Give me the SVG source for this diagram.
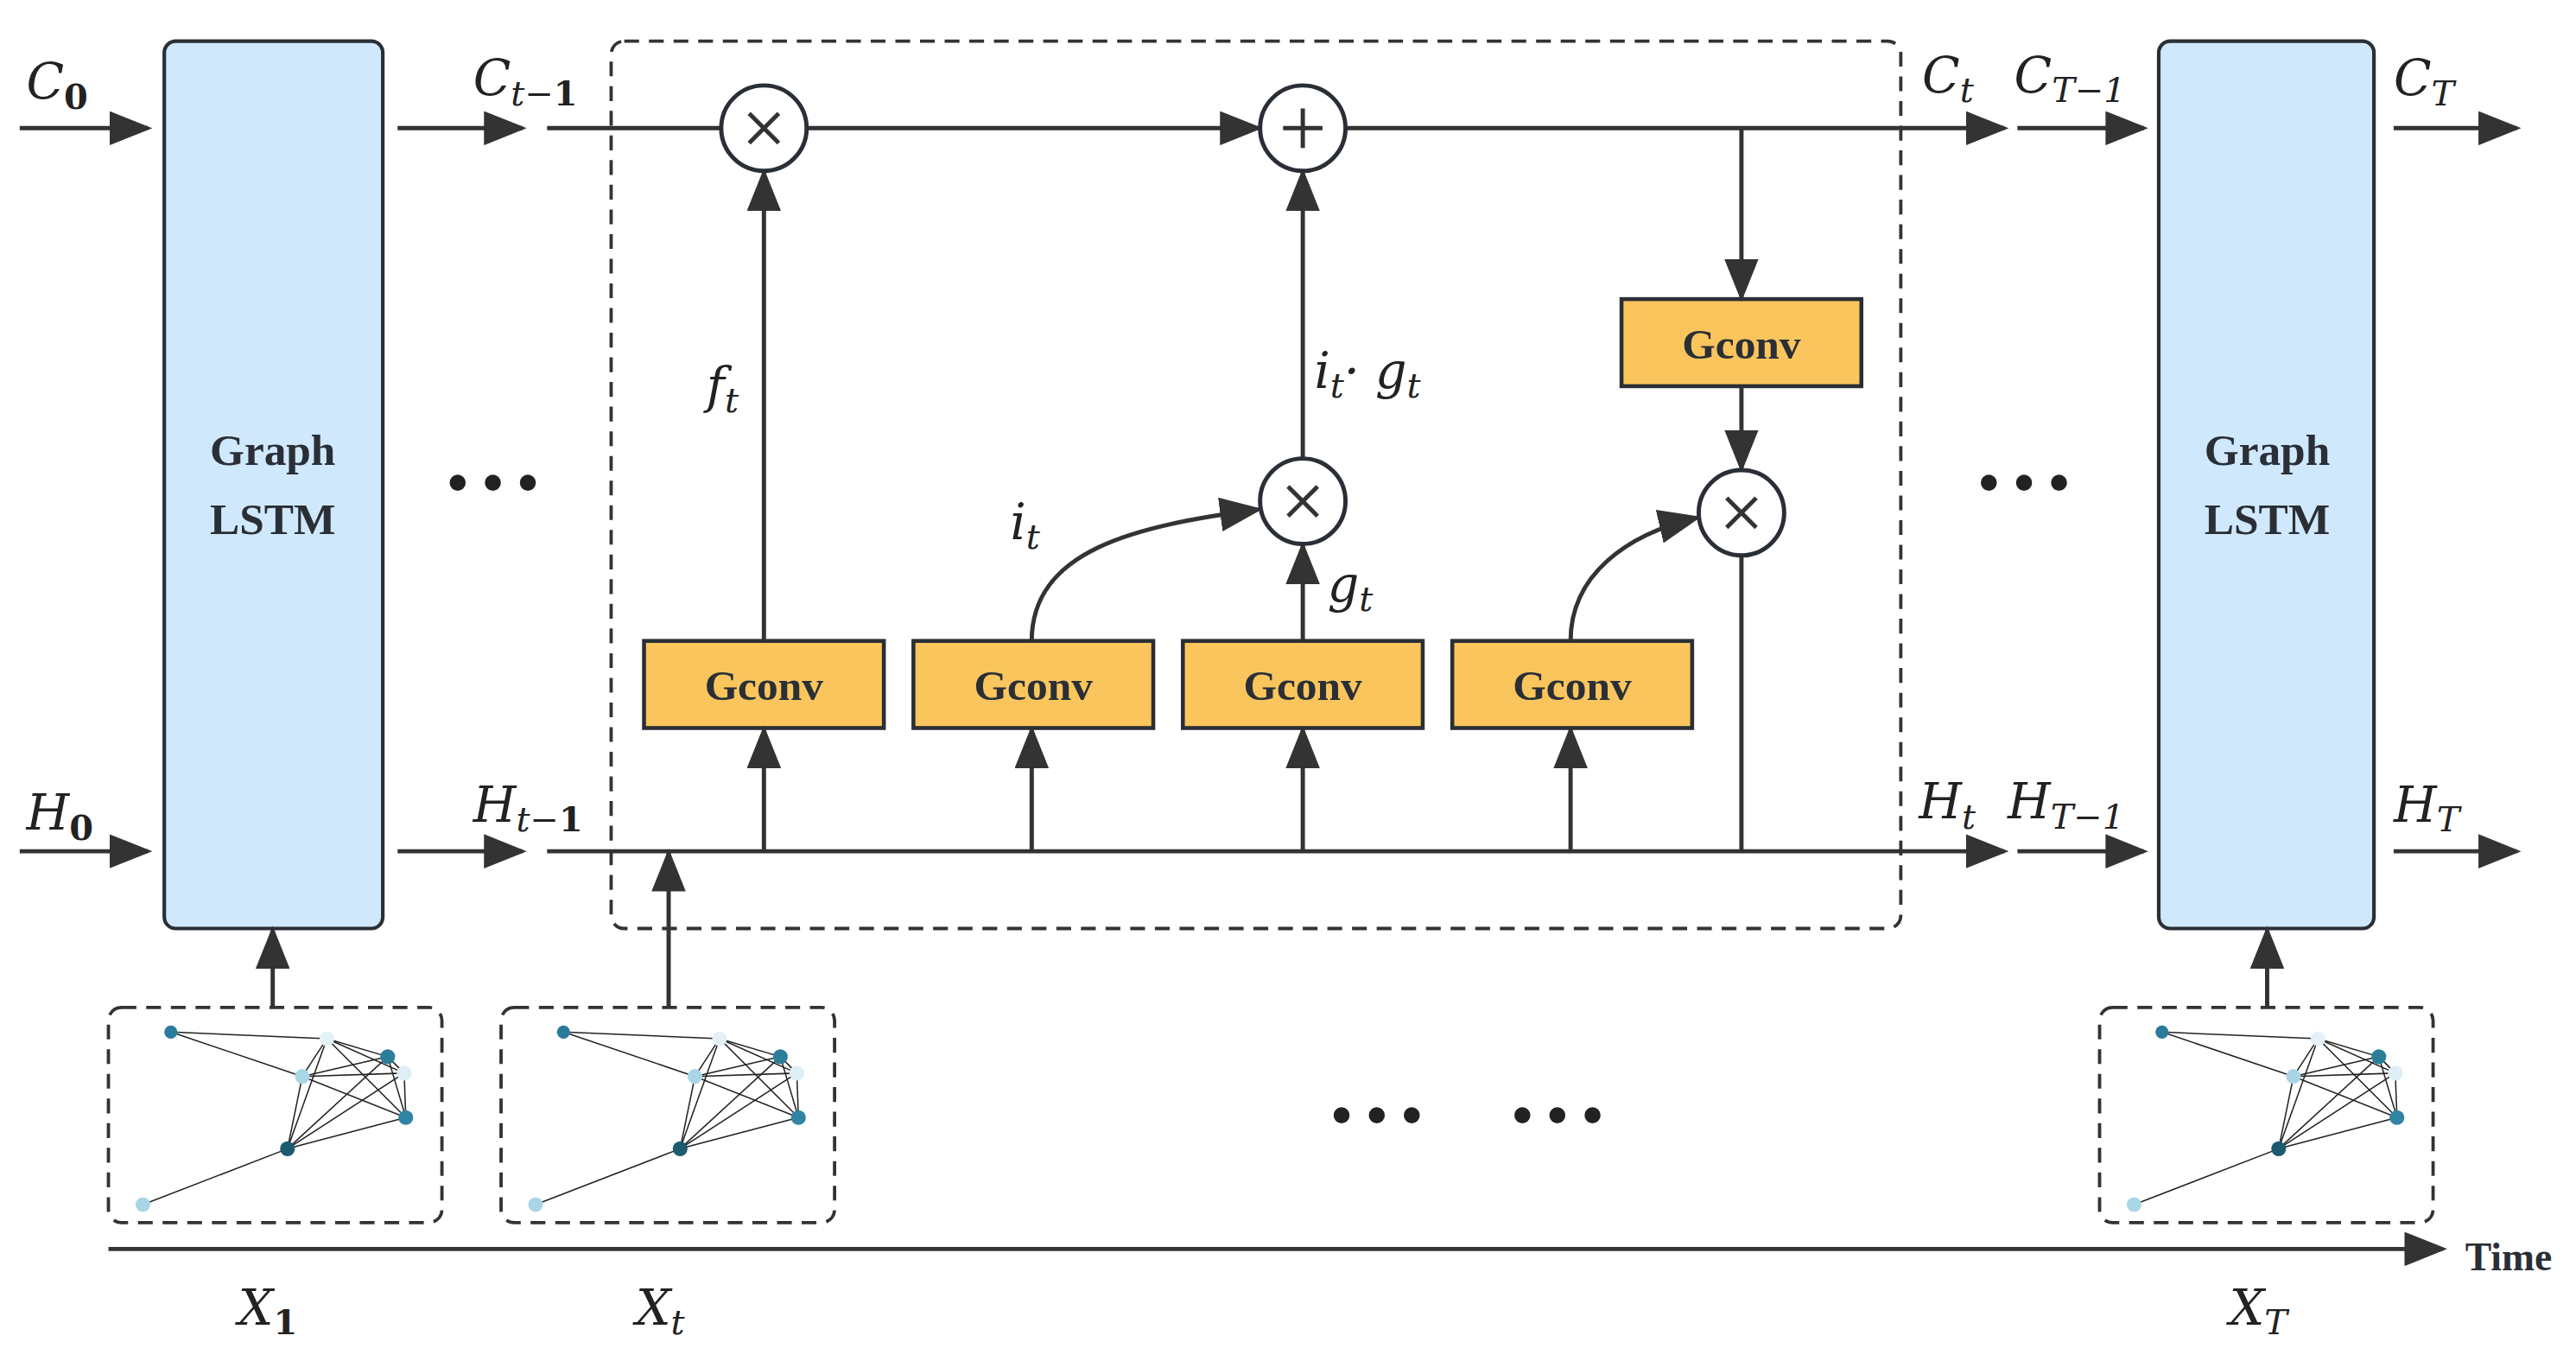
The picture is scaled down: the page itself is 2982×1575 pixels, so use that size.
<svg xmlns="http://www.w3.org/2000/svg" xmlns:xlink="http://www.w3.org/1999/xlink" width="2982" height="1575" viewBox="0 0 2982 1575">
<style>
.ln{stroke:#333;stroke-width:2.6;fill:none}
.ar{stroke:#333;stroke-width:2.6;fill:none;marker-end:url(#ah)}
.lstm{fill:#cfe8fc;stroke:#2a2f36;stroke-width:2.2}
.gc{fill:#fac55d;stroke:#2a2f36;stroke-width:2.4}
.dash{fill:none;stroke:#333;stroke-width:2;stroke-dasharray:9,6}
.op{fill:#fff;stroke:#2a2f36;stroke-width:2.6}
.bt{font-family:"Liberation Serif",serif;font-weight:bold;fill:#2a2f36;text-anchor:middle}
.m{font-family:"DejaVu Serif","Liberation Serif",serif;font-style:italic;fill:#222;font-size:30px}
.s{font-size:21px}
.su{font-style:normal;font-weight:bold}
.dots{font-family:"Liberation Sans",sans-serif;font-weight:bold;fill:#222;font-size:34px;text-anchor:middle}
.e{stroke:#222;stroke-width:0.8}
</style>
<defs>
<marker id="ah" markerWidth="10" markerHeight="8" refX="9" refY="4" orient="auto" markerUnits="strokeWidth"><path d="M0,0 L10,4 L0,8 Z" fill="#333"/></marker>
<g id="graph">
<rect x="0" y="0" width="203" height="131" rx="8" class="dash"/>
<g class="e">
<line x1="38" y1="15" x2="133" y2="19"/><line x1="38" y1="15" x2="118" y2="42"/><line x1="109" y1="86" x2="21" y2="120"/>
<line x1="133" y1="19" x2="170" y2="30"/><line x1="133" y1="19" x2="180" y2="40"/><line x1="133" y1="19" x2="118" y2="42"/><line x1="133" y1="19" x2="181" y2="67"/><line x1="133" y1="19" x2="109" y2="86"/>
<line x1="170" y1="30" x2="180" y2="40"/><line x1="170" y1="30" x2="118" y2="42"/><line x1="170" y1="30" x2="181" y2="67"/><line x1="170" y1="30" x2="109" y2="86"/>
<line x1="180" y1="40" x2="118" y2="42"/><line x1="180" y1="40" x2="181" y2="67"/><line x1="180" y1="40" x2="109" y2="86"/>
<line x1="118" y1="42" x2="181" y2="67"/><line x1="118" y1="42" x2="109" y2="86"/><line x1="181" y1="67" x2="109" y2="86"/>
</g>
<circle cx="38" cy="15" r="4" fill="#2a7b9b"/><circle cx="133" cy="19" r="4.5" fill="#e4f1f8"/><circle cx="170" cy="30" r="4.5" fill="#2b7e9a"/><circle cx="180" cy="40" r="4.5" fill="#dceef6"/><circle cx="118" cy="42" r="4.5" fill="#a9d6e6"/><circle cx="181" cy="67" r="4.5" fill="#2f85a3"/><circle cx="109" cy="86" r="4.5" fill="#1c5a70"/><circle cx="21" cy="120" r="4.5" fill="#a9d6e6"/>
</g>
</defs>
<rect width="2982" height="1575" fill="#fff"/>
<g transform="scale(1.9018)">
<g id="cell-frame"><rect x="372" y="25" width="785" height="540" rx="8" class="dash"/></g>
<g id="lstm1"><rect x="100" y="25" width="133" height="540" rx="7" class="lstm"/><text class="bt" x="166" y="283" font-size="27">Graph</text><text class="bt" x="166" y="325" font-size="27">LSTM</text></g>
<g id="lstmT"><rect x="1314" y="25" width="131" height="540" rx="7" class="lstm"/><text class="bt" x="1380" y="283" font-size="27">Graph</text><text class="bt" x="1380" y="325" font-size="27">LSTM</text></g>
<g id="gconv1"><rect x="392" y="390" width="146" height="53" class="gc"/><text class="bt" x="465" y="426" font-size="26">Gconv</text></g>
<g id="gconv2"><rect x="556" y="390" width="146" height="53" class="gc"/><text class="bt" x="629" y="426" font-size="26">Gconv</text></g>
<g id="gconv3"><rect x="720" y="390" width="146" height="53" class="gc"/><text class="bt" x="793" y="426" font-size="26">Gconv</text></g>
<g id="gconv4"><rect x="884" y="390" width="146" height="53" class="gc"/><text class="bt" x="957" y="426" font-size="26">Gconv</text></g>
<g id="gconv5"><rect x="987" y="182" width="146" height="53" class="gc"/><text class="bt" x="1060" y="218" font-size="26">Gconv</text></g>
<g id="graph1"><use xlink:href="#graph" x="66" y="613"/></g>
<g id="graphT0"><use xlink:href="#graph" x="305" y="613"/></g>
<g id="graphT"><use xlink:href="#graph" x="1278" y="613"/></g>
<g id="connectors">
<line class="ar" x1="12" y1="78" x2="90" y2="78"/>
<line class="ar" x1="12" y1="518" x2="90" y2="518"/>
<line class="ar" x1="242" y1="78" x2="318" y2="78"/>
<line class="ar" x1="242" y1="518" x2="318" y2="518"/>
<line class="ln" x1="333" y1="78" x2="439" y2="78"/>
<line class="ar" x1="491" y1="78" x2="766" y2="78"/>
<line class="ar" x1="819" y1="78" x2="1220" y2="78"/>
<line class="ar" x1="333" y1="518" x2="1220" y2="518"/>
<line class="ar" x1="465" y1="390" x2="465" y2="105"/>
<line class="ar" x1="793" y1="279" x2="793" y2="105"/>
<line class="ar" x1="793" y1="390" x2="793" y2="332"/>
<path class="ar" d="M628,390 C628,335 690,320 766,310"/>
<line class="ar" x1="1060" y1="78" x2="1060" y2="181"/>
<line class="ar" x1="1060" y1="235" x2="1060" y2="285"/>
<path class="ar" d="M956,390 C956,350 990,325 1033,315"/>
<line class="ln" x1="1060" y1="338" x2="1060" y2="518"/>
<line class="ar" x1="465" y1="518" x2="465" y2="444"/>
<line class="ar" x1="628" y1="518" x2="628" y2="444"/>
<line class="ar" x1="793" y1="518" x2="793" y2="444"/>
<line class="ar" x1="956" y1="518" x2="956" y2="444"/>
<line class="ar" x1="407" y1="613" x2="407" y2="519"/>
<line class="ar" x1="166" y1="613" x2="166" y2="566"/>
<line class="ar" x1="1380" y1="613" x2="1380" y2="566"/>
<line class="ar" x1="1228" y1="78" x2="1305" y2="78"/>
<line class="ar" x1="1228" y1="518" x2="1305" y2="518"/>
<line class="ar" x1="1457" y1="78" x2="1532" y2="78"/>
<line class="ar" x1="1457" y1="518" x2="1532" y2="518"/>
<line class="ar" x1="66" y1="760" x2="1487" y2="760"/>
</g>
<g id="ops">
<circle class="op" cx="465" cy="78" r="26"/><path class="ln" d="M456,69 L474,87 M474,69 L456,87" stroke-width="2"/>
<circle class="op" cx="793" cy="78" r="26"/><path class="ln" d="M793,66 V90 M781,78 H805" stroke-width="3.4"/>
<circle class="op" cx="793" cy="305" r="26"/><path class="ln" d="M784,296 L802,314 M802,296 L784,314" stroke-width="2"/>
<circle class="op" cx="1060" cy="312" r="26"/><path class="ln" d="M1051,303 L1069,321 M1069,303 L1051,321" stroke-width="2"/>
</g>
<g id="labels">
<text class="m" x="16" y="60">C<tspan class="s su" dy="6">0</tspan></text>
<text class="m" x="16" y="505">H<tspan class="s su" dy="6">0</tspan></text>
<text class="m" x="288" y="58">C<tspan class="s" dy="6">t−<tspan class="su">1</tspan></tspan></text>
<text class="m" x="288" y="500">H<tspan class="s" dy="6">t−<tspan class="su">1</tspan></tspan></text>
<text class="m" x="1170" y="56">C<tspan class="s" dy="6">t</tspan></text>
<text class="m" x="1168" y="498">H<tspan class="s" dy="6">t</tspan></text>
<text class="m" x="1226" y="56">C<tspan class="s" dy="6">T−1</tspan></text>
<text class="m" x="1222" y="498">H<tspan class="s" dy="6">T−1</tspan></text>
<text class="m" x="1457" y="58">C<tspan class="s" dy="6">T</tspan></text>
<text class="m" x="1457" y="500">H<tspan class="s" dy="6">T</tspan></text>
<text class="m" x="430" y="245">f<tspan class="s" dy="6">t</tspan></text>
<text class="m" x="800" y="236">i<tspan class="s" dy="6">t</tspan><tspan dy="-6">· g</tspan><tspan class="s" dy="6">t</tspan></text>
<text class="m" x="615" y="328">i<tspan class="s" dy="6">t</tspan></text>
<text class="m" x="808" y="366">g<tspan class="s" dy="6">t</tspan></text>
<text class="m" x="145" y="806">X<tspan class="s su" dy="6">1</tspan></text>
<text class="m" x="387" y="806">X<tspan class="s" dy="6">t</tspan></text>
<text class="m" x="1357" y="806">X<tspan class="s" dy="6">T</tspan></text>
<text class="bt" x="1527" y="773" font-size="24">Time</text>
<text class="dots" x="300" y="305">• • •</text>
<text class="dots" x="1232" y="305">• • •</text>
<text class="dots" x="838" y="690">• • •</text>
<text class="dots" x="948" y="690">• • •</text>
</g>
</g>
</svg>
